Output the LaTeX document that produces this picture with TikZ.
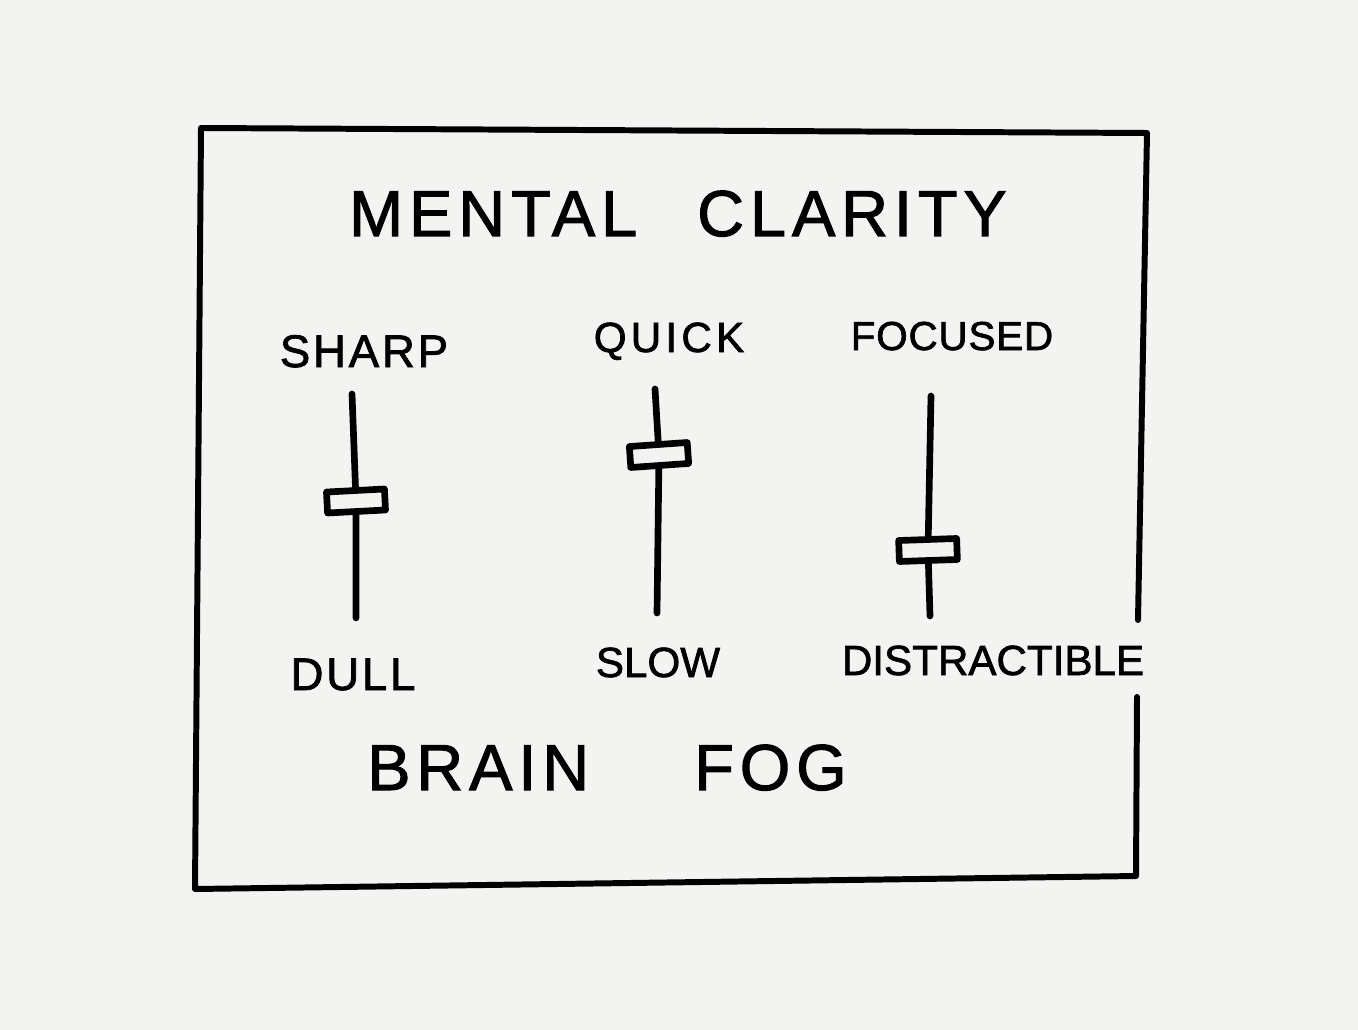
\documentclass[tikz,border=0pt]{standalone}
\usepackage{fontspec}
\newfontfamily\handfont[FakeBold=1.6]{Liberation Sans}
\usetikzlibrary{calc}
\definecolor{paper}{RGB}{243,243,242}
\tikzset{
  ink/.style={line width=3.8pt, line cap=round, line join=round},
  knob/.style={draw, ink, fill=paper, rectangle, minimum width=1.16cm, minimum height=0.42cm, inner sep=0pt},
  heading/.style={anchor=base, inner sep=0pt, font=\handfont\fontsize{37}{40}\selectfont\addfontfeature{LetterSpace=9}},
  tag/.style={anchor=base, inner sep=0pt, font=\handfont\fontsize{26}{30}\selectfont\addfontfeature{LetterSpace=6}}
}

\begin{document}
\begin{tikzpicture}[x=0.02cm, y=-0.02cm]
        % paper
        \fill[paper] (0,0) rectangle (1358,1030);
        \useasboundingbox (0,0) rectangle (1358,1030);

        % frame, open on the right at DISTRACTIBLE
        \draw[ink, line width=3.4pt] (1138,620) -- (1147,133) -- (201,128) -- (195,889) -- (1136,876) -- (1137,697);

        % Titles
        \node[heading] (clarity) at (678,236) {MENTAL\hspace{1.2cm}CLARITY};
        \node[heading] (fog) at (607,790) {BRAIN\hspace{2.1cm}FOG};

        % Slider 1
        \node[tag] (sharp) at (364,367) {SHARP};
        \node[tag] (dull) at (353,690) {DULL};
        \coordinate (top1) at (352,394);
        \coordinate (bot1) at (356,618);
        \node[knob, rotate=3] (knob1) at (356,501) {};
        \draw[ink] (top1) -- (knob1);
        \draw[ink] (knob1) -- (bot1);

        % Slider 2
        \node[tag, font=\handfont\fontsize{24}{28}\selectfont\addfontfeature{LetterSpace=10}] (quick) at (669,352) {QUICK};
        \node[tag, font=\handfont\fontsize{24}{28}\selectfont] (slow) at (658,677) {SLOW};
        \coordinate (top2) at (655,389);
        \coordinate (bot2) at (657,613);
        \node[knob, rotate=4] (knob2) at (659,455) {};
        \draw[ink] (top2) -- (knob2);
        \draw[ink] (knob2) -- (bot2);

        % Slider 3
        \node[tag, font=\handfont\fontsize{23}{28}\selectfont\addfontfeature{LetterSpace=2}] (focused) at (952,350) {FOCUSED};
        \node[tag, font=\handfont\fontsize{24}{28}\selectfont] (distract) at (993,675) {DISTRACTIBLE};
        \coordinate (top3) at (931,396);
        \coordinate (bot3) at (930,616);
        \node[knob, rotate=2] (knob3) at (928,550) {};
        \draw[ink] (top3) -- (knob3);
        \draw[ink] (knob3) -- (bot3);
\end{tikzpicture}
\end{document}
